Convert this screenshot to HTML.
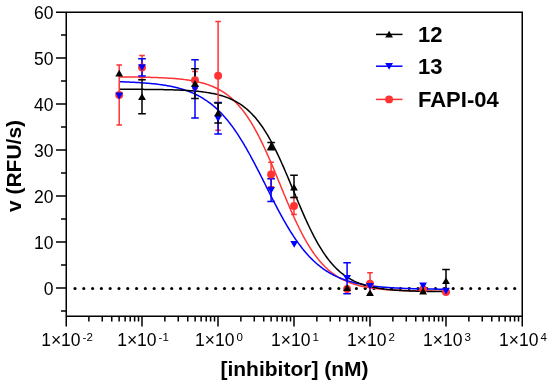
<!DOCTYPE html><html><head><meta charset="utf-8"><style>html,body{margin:0;padding:0;background:#fff;width:550px;height:386px;overflow:hidden}svg{display:block;will-change:transform}text{font-family:"Liberation Sans",sans-serif}</style></head><body>
<svg width="550" height="386" viewBox="0 0 550 386">
<g fill="#000"><circle cx="75.00" cy="288.5" r="1.55"/><circle cx="83.79" cy="288.5" r="1.55"/><circle cx="92.59" cy="288.5" r="1.55"/><circle cx="101.38" cy="288.5" r="1.55"/><circle cx="110.18" cy="288.5" r="1.55"/><circle cx="118.97" cy="288.5" r="1.55"/><circle cx="127.76" cy="288.5" r="1.55"/><circle cx="136.56" cy="288.5" r="1.55"/><circle cx="145.35" cy="288.5" r="1.55"/><circle cx="154.15" cy="288.5" r="1.55"/><circle cx="162.94" cy="288.5" r="1.55"/><circle cx="171.73" cy="288.5" r="1.55"/><circle cx="180.53" cy="288.5" r="1.55"/><circle cx="189.32" cy="288.5" r="1.55"/><circle cx="198.12" cy="288.5" r="1.55"/><circle cx="206.91" cy="288.5" r="1.55"/><circle cx="215.70" cy="288.5" r="1.55"/><circle cx="224.50" cy="288.5" r="1.55"/><circle cx="233.29" cy="288.5" r="1.55"/><circle cx="242.09" cy="288.5" r="1.55"/><circle cx="250.88" cy="288.5" r="1.55"/><circle cx="259.67" cy="288.5" r="1.55"/><circle cx="268.47" cy="288.5" r="1.55"/><circle cx="277.26" cy="288.5" r="1.55"/><circle cx="286.06" cy="288.5" r="1.55"/><circle cx="294.85" cy="288.5" r="1.55"/><circle cx="303.64" cy="288.5" r="1.55"/><circle cx="312.44" cy="288.5" r="1.55"/><circle cx="321.23" cy="288.5" r="1.55"/><circle cx="330.03" cy="288.5" r="1.55"/><circle cx="338.82" cy="288.5" r="1.55"/><circle cx="347.61" cy="288.5" r="1.55"/><circle cx="356.41" cy="288.5" r="1.55"/><circle cx="365.20" cy="288.5" r="1.55"/><circle cx="374.00" cy="288.5" r="1.55"/><circle cx="382.79" cy="288.5" r="1.55"/><circle cx="391.58" cy="288.5" r="1.55"/><circle cx="400.38" cy="288.5" r="1.55"/><circle cx="409.17" cy="288.5" r="1.55"/><circle cx="417.97" cy="288.5" r="1.55"/><circle cx="426.76" cy="288.5" r="1.55"/><circle cx="435.55" cy="288.5" r="1.55"/><circle cx="444.35" cy="288.5" r="1.55"/><circle cx="453.14" cy="288.5" r="1.55"/><circle cx="461.94" cy="288.5" r="1.55"/><circle cx="470.73" cy="288.5" r="1.55"/><circle cx="479.52" cy="288.5" r="1.55"/><circle cx="488.32" cy="288.5" r="1.55"/><circle cx="497.11" cy="288.5" r="1.55"/><circle cx="505.91" cy="288.5" r="1.55"/><circle cx="514.70" cy="288.5" r="1.55"/></g>
<path d="M119.30,76.92 L120.39,76.93 L121.49,76.94 L122.58,76.94 L123.67,76.95 L124.76,76.96 L125.86,76.97 L126.95,76.98 L128.04,76.99 L129.13,77.00 L130.23,77.01 L131.32,77.03 L132.41,77.04 L133.50,77.05 L134.60,77.07 L135.69,77.08 L136.78,77.10 L137.87,77.12 L138.97,77.13 L140.06,77.15 L141.15,77.17 L142.25,77.19 L143.34,77.21 L144.43,77.23 L145.52,77.26 L146.62,77.28 L147.71,77.31 L148.80,77.33 L149.89,77.36 L150.99,77.39 L152.08,77.42 L153.17,77.46 L154.26,77.49 L155.36,77.53 L156.45,77.57 L157.54,77.61 L158.64,77.65 L159.73,77.69 L160.82,77.74 L161.91,77.79 L163.01,77.84 L164.10,77.89 L165.19,77.95 L166.28,78.01 L167.38,78.07 L168.47,78.14 L169.56,78.21 L170.65,78.28 L171.75,78.35 L172.84,78.43 L173.93,78.52 L175.02,78.60 L176.12,78.70 L177.21,78.79 L178.30,78.90 L179.40,79.00 L180.49,79.11 L181.58,79.23 L182.67,79.36 L183.77,79.48 L184.86,79.62 L185.95,79.76 L187.04,79.91 L188.14,80.07 L189.23,80.23 L190.32,80.41 L191.41,80.59 L192.51,80.78 L193.60,80.98 L194.69,81.19 L195.78,81.41 L196.88,81.64 L197.97,81.88 L199.06,82.13 L200.16,82.40 L201.25,82.67 L202.34,82.96 L203.43,83.27 L204.53,83.59 L205.62,83.92 L206.71,84.27 L207.80,84.64 L208.90,85.02 L209.99,85.43 L211.08,85.85 L212.17,86.29 L213.27,86.75 L214.36,87.23 L215.45,87.73 L216.55,88.26 L217.64,88.81 L218.73,89.39 L219.82,89.99 L220.92,90.61 L222.01,91.27 L223.10,91.95 L224.19,92.67 L225.29,93.41 L226.38,94.19 L227.47,95.00 L228.56,95.84 L229.66,96.72 L230.75,97.63 L231.84,98.59 L232.93,99.58 L234.03,100.60 L235.12,101.67 L236.21,102.79 L237.31,103.94 L238.40,105.14 L239.49,106.38 L240.58,107.66 L241.68,109.00 L242.77,110.38 L243.86,111.80 L244.95,113.28 L246.05,114.81 L247.14,116.38 L248.23,118.01 L249.32,119.68 L250.42,121.41 L251.51,123.18 L252.60,125.01 L253.69,126.89 L254.79,128.81 L255.88,130.79 L256.97,132.82 L258.07,134.89 L259.16,137.01 L260.25,139.18 L261.34,141.40 L262.44,143.66 L263.53,145.96 L264.62,148.30 L265.71,150.68 L266.81,153.10 L267.90,155.55 L268.99,158.04 L270.08,160.55 L271.18,163.09 L272.27,165.66 L273.36,168.25 L274.46,170.86 L275.55,173.48 L276.64,176.12 L277.73,178.77 L278.83,181.42 L279.92,184.07 L281.01,186.73 L282.10,189.38 L283.20,192.03 L284.29,194.67 L285.38,197.29 L286.47,199.90 L287.57,202.49 L288.66,205.05 L289.75,207.60 L290.84,210.11 L291.94,212.59 L293.03,215.05 L294.12,217.46 L295.22,219.84 L296.31,222.18 L297.40,224.48 L298.49,226.74 L299.59,228.96 L300.68,231.12 L301.77,233.25 L302.86,235.32 L303.96,237.35 L305.05,239.32 L306.14,241.25 L307.23,243.12 L308.33,244.95 L309.42,246.73 L310.51,248.45 L311.61,250.12 L312.70,251.75 L313.79,253.32 L314.88,254.85 L315.98,256.32 L317.07,257.75 L318.16,259.13 L319.25,260.46 L320.35,261.75 L321.44,262.99 L322.53,264.18 L323.62,265.33 L324.72,266.45 L325.81,267.51 L326.90,268.54 L327.99,269.53 L329.09,270.48 L330.18,271.40 L331.27,272.27 L332.37,273.12 L333.46,273.92 L334.55,274.70 L335.64,275.44 L336.74,276.16 L337.83,276.84 L338.92,277.50 L340.01,278.12 L341.11,278.72 L342.20,279.30 L343.29,279.85 L344.38,280.37 L345.48,280.88 L346.57,281.36 L347.66,281.82 L348.75,282.26 L349.85,282.68 L350.94,283.08 L352.03,283.47 L353.13,283.83 L354.22,284.18 L355.31,284.52 L356.40,284.84 L357.50,285.14 L358.59,285.43 L359.68,285.71 L360.77,285.97 L361.87,286.23 L362.96,286.47 L364.05,286.70 L365.14,286.92 L366.24,287.12 L367.33,287.32 L368.42,287.51 L369.52,287.69 L370.61,287.87 L371.70,288.03 L372.79,288.19 L373.89,288.34 L374.98,288.48 L376.07,288.62 L377.16,288.75 L378.26,288.87 L379.35,288.99 L380.44,289.10 L381.53,289.20 L382.63,289.31 L383.72,289.40 L384.81,289.50 L385.90,289.58 L387.00,289.67 L388.09,289.75 L389.18,289.82 L390.28,289.89 L391.37,289.96 L392.46,290.03 L393.55,290.09 L394.65,290.15 L395.74,290.21 L396.83,290.26 L397.92,290.31 L399.02,290.36 L400.11,290.41 L401.20,290.45 L402.29,290.49 L403.39,290.53 L404.48,290.57 L405.57,290.61 L406.66,290.64 L407.76,290.68 L408.85,290.71 L409.94,290.74 L411.04,290.76 L412.13,290.79 L413.22,290.82 L414.31,290.84 L415.41,290.87 L416.50,290.89 L417.59,290.91 L418.68,290.93 L419.78,290.95 L420.87,290.97 L421.96,290.98 L423.05,291.00 L424.15,291.02 L425.24,291.03 L426.33,291.05 L427.43,291.06 L428.52,291.07 L429.61,291.08 L430.70,291.10 L431.80,291.11 L432.89,291.12 L433.98,291.13 L435.07,291.14 L436.17,291.15 L437.26,291.15 L438.35,291.16 L439.44,291.17 L440.54,291.18 L441.63,291.19 L442.72,291.19 L443.81,291.20 L444.91,291.20 L446.00,291.21" fill="none" stroke="#ff3333" stroke-width="1.5"/>
<path d="M119.30,81.73 L120.39,81.77 L121.49,81.80 L122.58,81.83 L123.67,81.87 L124.76,81.91 L125.86,81.95 L126.95,81.99 L128.04,82.04 L129.13,82.08 L130.23,82.13 L131.32,82.18 L132.41,82.23 L133.50,82.28 L134.60,82.34 L135.69,82.40 L136.78,82.46 L137.87,82.52 L138.97,82.59 L140.06,82.65 L141.15,82.73 L142.25,82.80 L143.34,82.88 L144.43,82.96 L145.52,83.04 L146.62,83.13 L147.71,83.22 L148.80,83.32 L149.89,83.42 L150.99,83.52 L152.08,83.63 L153.17,83.74 L154.26,83.86 L155.36,83.98 L156.45,84.11 L157.54,84.24 L158.64,84.38 L159.73,84.52 L160.82,84.67 L161.91,84.82 L163.01,84.98 L164.10,85.15 L165.19,85.33 L166.28,85.51 L167.38,85.70 L168.47,85.90 L169.56,86.10 L170.65,86.32 L171.75,86.54 L172.84,86.77 L173.93,87.01 L175.02,87.26 L176.12,87.52 L177.21,87.79 L178.30,88.08 L179.40,88.37 L180.49,88.67 L181.58,88.99 L182.67,89.32 L183.77,89.66 L184.86,90.02 L185.95,90.39 L187.04,90.77 L188.14,91.17 L189.23,91.58 L190.32,92.01 L191.41,92.46 L192.51,92.92 L193.60,93.40 L194.69,93.90 L195.78,94.42 L196.88,94.96 L197.97,95.51 L199.06,96.09 L200.16,96.69 L201.25,97.31 L202.34,97.95 L203.43,98.61 L204.53,99.30 L205.62,100.01 L206.71,100.75 L207.80,101.51 L208.90,102.30 L209.99,103.11 L211.08,103.96 L212.17,104.83 L213.27,105.73 L214.36,106.65 L215.45,107.61 L216.55,108.60 L217.64,109.62 L218.73,110.67 L219.82,111.75 L220.92,112.87 L222.01,114.01 L223.10,115.19 L224.19,116.41 L225.29,117.66 L226.38,118.94 L227.47,120.26 L228.56,121.61 L229.66,123.00 L230.75,124.42 L231.84,125.87 L232.93,127.37 L234.03,128.89 L235.12,130.46 L236.21,132.05 L237.31,133.69 L238.40,135.35 L239.49,137.05 L240.58,138.78 L241.68,140.55 L242.77,142.35 L243.86,144.17 L244.95,146.03 L246.05,147.92 L247.14,149.84 L248.23,151.78 L249.32,153.75 L250.42,155.75 L251.51,157.77 L252.60,159.81 L253.69,161.87 L254.79,163.95 L255.88,166.05 L256.97,168.17 L258.07,170.30 L259.16,172.44 L260.25,174.59 L261.34,176.76 L262.44,178.93 L263.53,181.10 L264.62,183.28 L265.71,185.47 L266.81,187.65 L267.90,189.83 L268.99,192.00 L270.08,194.17 L271.18,196.33 L272.27,198.48 L273.36,200.62 L274.46,202.75 L275.55,204.86 L276.64,206.95 L277.73,209.03 L278.83,211.09 L279.92,213.12 L281.01,215.14 L282.10,217.13 L283.20,219.09 L284.29,221.03 L285.38,222.94 L286.47,224.82 L287.57,226.67 L288.66,228.49 L289.75,230.28 L290.84,232.04 L291.94,233.76 L293.03,235.45 L294.12,237.11 L295.22,238.73 L296.31,240.32 L297.40,241.87 L298.49,243.39 L299.59,244.87 L300.68,246.32 L301.77,247.74 L302.86,249.11 L303.96,250.46 L305.05,251.77 L306.14,253.04 L307.23,254.28 L308.33,255.49 L309.42,256.66 L310.51,257.80 L311.61,258.90 L312.70,259.98 L313.79,261.02 L314.88,262.03 L315.98,263.01 L317.07,263.96 L318.16,264.88 L319.25,265.77 L320.35,266.64 L321.44,267.47 L322.53,268.28 L323.62,269.06 L324.72,269.82 L325.81,270.55 L326.90,271.25 L327.99,271.93 L329.09,272.59 L330.18,273.23 L331.27,273.84 L332.37,274.43 L333.46,275.01 L334.55,275.56 L335.64,276.09 L336.74,276.60 L337.83,277.10 L338.92,277.57 L340.01,278.03 L341.11,278.47 L342.20,278.90 L343.29,279.31 L344.38,279.70 L345.48,280.08 L346.57,280.45 L347.66,280.80 L348.75,281.14 L349.85,281.47 L350.94,281.78 L352.03,282.08 L353.13,282.37 L354.22,282.65 L355.31,282.92 L356.40,283.18 L357.50,283.42 L358.59,283.66 L359.68,283.89 L360.77,284.11 L361.87,284.32 L362.96,284.53 L364.05,284.72 L365.14,284.91 L366.24,285.09 L367.33,285.26 L368.42,285.43 L369.52,285.59 L370.61,285.74 L371.70,285.89 L372.79,286.03 L373.89,286.17 L374.98,286.30 L376.07,286.43 L377.16,286.55 L378.26,286.66 L379.35,286.77 L380.44,286.88 L381.53,286.98 L382.63,287.08 L383.72,287.18 L384.81,287.27 L385.90,287.35 L387.00,287.44 L388.09,287.52 L389.18,287.59 L390.28,287.67 L391.37,287.74 L392.46,287.80 L393.55,287.87 L394.65,287.93 L395.74,287.99 L396.83,288.05 L397.92,288.11 L399.02,288.16 L400.11,288.21 L401.20,288.26 L402.29,288.30 L403.39,288.35 L404.48,288.39 L405.57,288.43 L406.66,288.47 L407.76,288.51 L408.85,288.55 L409.94,288.58 L411.04,288.62 L412.13,288.65 L413.22,288.68 L414.31,288.71 L415.41,288.74 L416.50,288.77 L417.59,288.79 L418.68,288.82 L419.78,288.84 L420.87,288.86 L421.96,288.89 L423.05,288.91 L424.15,288.93 L425.24,288.95 L426.33,288.97 L427.43,288.98 L428.52,289.00 L429.61,289.02 L430.70,289.03 L431.80,289.05 L432.89,289.06 L433.98,289.08 L435.07,289.09 L436.17,289.10 L437.26,289.12 L438.35,289.13 L439.44,289.14 L440.54,289.15 L441.63,289.16 L442.72,289.17 L443.81,289.18 L444.91,289.19 L446.00,289.20" fill="none" stroke="#0000ff" stroke-width="1.5"/>
<path d="M119.30,89.26 L120.39,89.27 L121.49,89.27 L122.58,89.27 L123.67,89.27 L124.76,89.28 L125.86,89.28 L126.95,89.29 L128.04,89.29 L129.13,89.29 L130.23,89.30 L131.32,89.30 L132.41,89.31 L133.50,89.31 L134.60,89.32 L135.69,89.32 L136.78,89.33 L137.87,89.34 L138.97,89.34 L140.06,89.35 L141.15,89.36 L142.25,89.36 L143.34,89.37 L144.43,89.38 L145.52,89.39 L146.62,89.40 L147.71,89.41 L148.80,89.42 L149.89,89.43 L150.99,89.44 L152.08,89.46 L153.17,89.47 L154.26,89.48 L155.36,89.50 L156.45,89.51 L157.54,89.53 L158.64,89.55 L159.73,89.56 L160.82,89.58 L161.91,89.60 L163.01,89.62 L164.10,89.64 L165.19,89.67 L166.28,89.69 L167.38,89.72 L168.47,89.74 L169.56,89.77 L170.65,89.80 L171.75,89.83 L172.84,89.87 L173.93,89.90 L175.02,89.94 L176.12,89.98 L177.21,90.02 L178.30,90.06 L179.40,90.11 L180.49,90.15 L181.58,90.20 L182.67,90.26 L183.77,90.31 L184.86,90.37 L185.95,90.43 L187.04,90.49 L188.14,90.56 L189.23,90.63 L190.32,90.71 L191.41,90.79 L192.51,90.87 L193.60,90.96 L194.69,91.05 L195.78,91.15 L196.88,91.25 L197.97,91.36 L199.06,91.47 L200.16,91.59 L201.25,91.72 L202.34,91.85 L203.43,91.99 L204.53,92.13 L205.62,92.29 L206.71,92.45 L207.80,92.62 L208.90,92.80 L209.99,92.98 L211.08,93.18 L212.17,93.39 L213.27,93.61 L214.36,93.84 L215.45,94.08 L216.55,94.33 L217.64,94.59 L218.73,94.87 L219.82,95.17 L220.92,95.47 L222.01,95.80 L223.10,96.14 L224.19,96.49 L225.29,96.87 L226.38,97.26 L227.47,97.67 L228.56,98.10 L229.66,98.55 L230.75,99.03 L231.84,99.52 L232.93,100.04 L234.03,100.59 L235.12,101.16 L236.21,101.76 L237.31,102.38 L238.40,103.03 L239.49,103.72 L240.58,104.43 L241.68,105.18 L242.77,105.96 L243.86,106.78 L244.95,107.63 L246.05,108.52 L247.14,109.44 L248.23,110.41 L249.32,111.42 L250.42,112.46 L251.51,113.55 L252.60,114.69 L253.69,115.87 L254.79,117.09 L255.88,118.36 L256.97,119.68 L258.07,121.05 L259.16,122.47 L260.25,123.94 L261.34,125.46 L262.44,127.03 L263.53,128.66 L264.62,130.33 L265.71,132.06 L266.81,133.84 L267.90,135.67 L268.99,137.56 L270.08,139.50 L271.18,141.49 L272.27,143.52 L273.36,145.61 L274.46,147.75 L275.55,149.94 L276.64,152.17 L277.73,154.44 L278.83,156.76 L279.92,159.12 L281.01,161.51 L282.10,163.94 L283.20,166.41 L284.29,168.91 L285.38,171.43 L286.47,173.98 L287.57,176.55 L288.66,179.14 L289.75,181.74 L290.84,184.35 L291.94,186.98 L293.03,189.60 L294.12,192.23 L295.22,194.86 L296.31,197.48 L297.40,200.09 L298.49,202.69 L299.59,205.27 L300.68,207.84 L301.77,210.38 L302.86,212.89 L303.96,215.38 L305.05,217.83 L306.14,220.25 L307.23,222.63 L308.33,224.98 L309.42,227.28 L310.51,229.54 L311.61,231.76 L312.70,233.92 L313.79,236.05 L314.88,238.12 L315.98,240.14 L317.07,242.11 L318.16,244.03 L319.25,245.90 L320.35,247.71 L321.44,249.48 L322.53,251.19 L323.62,252.84 L324.72,254.45 L325.81,256.00 L326.90,257.51 L327.99,258.96 L329.09,260.36 L330.18,261.71 L331.27,263.01 L332.37,264.27 L333.46,265.48 L334.55,266.64 L335.64,267.76 L336.74,268.84 L337.83,269.87 L338.92,270.86 L340.01,271.82 L341.11,272.73 L342.20,273.60 L343.29,274.44 L344.38,275.25 L345.48,276.02 L346.57,276.75 L347.66,277.46 L348.75,278.13 L349.85,278.77 L350.94,279.39 L352.03,279.98 L353.13,280.54 L354.22,281.08 L355.31,281.59 L356.40,282.08 L357.50,282.54 L358.59,282.99 L359.68,283.41 L360.77,283.82 L361.87,284.20 L362.96,284.57 L364.05,284.92 L365.14,285.25 L366.24,285.57 L367.33,285.87 L368.42,286.16 L369.52,286.43 L370.61,286.70 L371.70,286.94 L372.79,287.18 L373.89,287.41 L374.98,287.62 L376.07,287.82 L377.16,288.02 L378.26,288.20 L379.35,288.38 L380.44,288.54 L381.53,288.70 L382.63,288.85 L383.72,289.00 L384.81,289.13 L385.90,289.26 L387.00,289.39 L388.09,289.50 L389.18,289.61 L390.28,289.72 L391.37,289.82 L392.46,289.92 L393.55,290.01 L394.65,290.09 L395.74,290.18 L396.83,290.25 L397.92,290.33 L399.02,290.40 L400.11,290.46 L401.20,290.53 L402.29,290.59 L403.39,290.65 L404.48,290.70 L405.57,290.75 L406.66,290.80 L407.76,290.85 L408.85,290.89 L409.94,290.93 L411.04,290.97 L412.13,291.01 L413.22,291.05 L414.31,291.08 L415.41,291.11 L416.50,291.15 L417.59,291.17 L418.68,291.20 L419.78,291.23 L420.87,291.25 L421.96,291.28 L423.05,291.30 L424.15,291.32 L425.24,291.34 L426.33,291.36 L427.43,291.38 L428.52,291.40 L429.61,291.41 L430.70,291.43 L431.80,291.44 L432.89,291.46 L433.98,291.47 L435.07,291.49 L436.17,291.50 L437.26,291.51 L438.35,291.52 L439.44,291.53 L440.54,291.54 L441.63,291.55 L442.72,291.56 L443.81,291.57 L444.91,291.58 L446.00,291.58" fill="none" stroke="#000000" stroke-width="1.5"/>
<path d="M119.20,65.00 V125.00 M116.40,65.00 H122.00 M116.40,125.00 H122.00" stroke="#ff3333" stroke-width="1.5" fill="none"/>
<path d="M142.00,55.40 V79.60 M139.20,55.40 H144.80 M139.20,79.60 H144.80" stroke="#ff3333" stroke-width="1.5" fill="none"/>
<path d="M195.00,71.60 V88.80 M192.20,71.60 H197.80 M192.20,88.80 H197.80" stroke="#ff3333" stroke-width="1.5" fill="none"/>
<path d="M218.10,21.40 V130.20 M215.30,21.40 H220.90 M215.30,130.20 H220.90" stroke="#ff3333" stroke-width="1.5" fill="none"/>
<path d="M271.10,162.20 V186.80 M268.30,162.20 H273.90 M268.30,186.80 H273.90" stroke="#ff3333" stroke-width="1.5" fill="none"/>
<path d="M294.00,197.50 V214.50 M291.20,197.50 H296.80 M291.20,214.50 H296.80" stroke="#ff3333" stroke-width="1.5" fill="none"/>

<path d="M370.00,272.80 V294.80 M367.20,272.80 H372.80 M367.20,294.80 H372.80" stroke="#ff3333" stroke-width="1.5" fill="none"/>



<path d="M142.00,58.80 V75.90 M138.20,58.80 H145.80 M138.20,75.90 H145.80" stroke="#0000ff" stroke-width="1.5" fill="none"/>
<path d="M195.00,59.70 V118.00 M191.20,59.70 H198.80 M191.20,118.00 H198.80" stroke="#0000ff" stroke-width="1.5" fill="none"/>
<path d="M218.10,102.60 V134.10 M214.30,102.60 H221.90 M214.30,134.10 H221.90" stroke="#0000ff" stroke-width="1.5" fill="none"/>
<path d="M271.10,178.80 V201.40 M267.30,178.80 H274.90 M267.30,201.40 H274.90" stroke="#0000ff" stroke-width="1.5" fill="none"/>

<path d="M347.10,262.65 V293.75 M343.30,262.65 H350.90 M343.30,293.75 H350.90" stroke="#0000ff" stroke-width="1.5" fill="none"/>




<path d="M142.00,79.85 V113.85 M138.20,79.85 H145.80 M138.20,113.85 H145.80" stroke="#000000" stroke-width="1.5" fill="none"/>
<path d="M195.00,68.75 V98.45 M191.20,68.75 H198.80 M191.20,98.45 H198.80" stroke="#000000" stroke-width="1.5" fill="none"/>
<path d="M218.10,102.90 V123.00 M214.30,102.90 H221.90 M214.30,123.00 H221.90" stroke="#000000" stroke-width="1.5" fill="none"/>
<path d="M271.10,142.60 V149.80 M267.30,142.60 H274.90 M267.30,149.80 H274.90" stroke="#000000" stroke-width="1.5" fill="none"/>
<path d="M294.00,175.20 V197.50 M290.20,175.20 H297.80 M290.20,197.50 H297.80" stroke="#000000" stroke-width="1.5" fill="none"/>



<path d="M446.00,269.40 V292.20 M442.20,269.40 H449.80 M442.20,292.20 H449.80" stroke="#000000" stroke-width="1.5" fill="none"/>
<circle cx="119.20" cy="95.00" r="3.95" fill="#ff3333"/>
<circle cx="142.00" cy="67.50" r="3.95" fill="#ff3333"/>
<circle cx="195.00" cy="80.20" r="3.95" fill="#ff3333"/>
<circle cx="218.10" cy="75.80" r="3.95" fill="#ff3333"/>
<circle cx="271.10" cy="174.50" r="3.95" fill="#ff3333"/>
<circle cx="294.00" cy="206.00" r="3.95" fill="#ff3333"/>
<circle cx="347.10" cy="289.00" r="3.95" fill="#ff3333"/>
<circle cx="370.00" cy="283.80" r="3.95" fill="#ff3333"/>
<circle cx="423.10" cy="289.40" r="3.95" fill="#ff3333"/>
<circle cx="446.00" cy="292.00" r="3.95" fill="#ff3333"/>
<path d="M119.20,99.40 L123.10,92.60 L115.30,92.60 Z" fill="#0000ff"/>
<path d="M142.00,70.95 L145.90,64.15 L138.10,64.15 Z" fill="#0000ff"/>
<path d="M195.00,92.45 L198.90,85.65 L191.10,85.65 Z" fill="#0000ff"/>
<path d="M218.10,121.95 L222.00,115.15 L214.20,115.15 Z" fill="#0000ff"/>
<path d="M271.10,193.70 L275.00,186.90 L267.20,186.90 Z" fill="#0000ff"/>
<path d="M294.20,247.80 L298.10,241.00 L290.30,241.00 Z" fill="#0000ff"/>
<path d="M347.10,281.80 L351.00,275.00 L343.20,275.00 Z" fill="#0000ff"/>
<path d="M370.00,289.70 L373.90,282.90 L366.10,282.90 Z" fill="#0000ff"/>
<path d="M423.10,289.35 L427.00,282.55 L419.20,282.55 Z" fill="#0000ff"/>
<path d="M446.00,294.60 L449.90,287.80 L442.10,287.80 Z" fill="#0000ff"/>
<path d="M119.20,69.65 L123.10,76.45 L115.30,76.45 Z" fill="#000000"/>
<path d="M142.00,93.25 L145.90,100.05 L138.10,100.05 Z" fill="#000000"/>
<path d="M195.00,80.00 L198.90,86.80 L191.10,86.80 Z" fill="#000000"/>
<path d="M218.10,109.35 L222.00,116.15 L214.20,116.15 Z" fill="#000000"/>
<path d="M271.10,142.60 L275.00,149.40 L267.20,149.40 Z" fill="#000000"/>
<path d="M294.00,183.80 L297.90,190.60 L290.10,190.60 Z" fill="#000000"/>
<path d="M347.10,284.20 L351.00,291.00 L343.20,291.00 Z" fill="#000000"/>
<path d="M370.00,289.15 L373.90,295.95 L366.10,295.95 Z" fill="#000000"/>
<path d="M423.10,287.60 L427.00,294.40 L419.20,294.40 Z" fill="#000000"/>
<path d="M446.00,277.20 L449.90,284.00 L442.10,284.00 Z" fill="#000000"/>
<path d="M66.25,11.5 V326.5 M56,12.25 H522.75 M522.25,11.5 V326.5 M66,316.25 H522.75 M56,288.00 H66 M56,242.00 H66 M56,196.00 H66 M56,150.00 H66 M56,104.00 H66 M56,58.00 H66 M61,311.00 H66 M61,265.00 H66 M61,219.00 H66 M61,173.00 H66 M61,127.00 H66 M61,81.00 H66 M61,35.00 H66 M88.88,316 V321.5 M102.26,316 V321.5 M111.76,316 V321.5 M119.12,316 V321.5 M125.14,316 V321.5 M130.23,316 V321.5 M134.63,316 V321.5 M138.52,316 V321.5 M142.00,316 V326.5 M164.88,316 V321.5 M178.26,316 V321.5 M187.76,316 V321.5 M195.12,316 V321.5 M201.14,316 V321.5 M206.23,316 V321.5 M210.63,316 V321.5 M214.52,316 V321.5 M218.00,316 V326.5 M240.88,316 V321.5 M254.26,316 V321.5 M263.76,316 V321.5 M271.12,316 V321.5 M277.14,316 V321.5 M282.23,316 V321.5 M286.63,316 V321.5 M290.52,316 V321.5 M294.00,316 V326.5 M316.88,316 V321.5 M330.26,316 V321.5 M339.76,316 V321.5 M347.12,316 V321.5 M353.14,316 V321.5 M358.23,316 V321.5 M362.63,316 V321.5 M366.52,316 V321.5 M370.00,316 V326.5 M392.88,316 V321.5 M406.26,316 V321.5 M415.76,316 V321.5 M423.12,316 V321.5 M429.14,316 V321.5 M434.23,316 V321.5 M438.63,316 V321.5 M442.52,316 V321.5 M446.00,316 V326.5 M468.88,316 V321.5 M482.26,316 V321.5 M491.76,316 V321.5 M499.12,316 V321.5 M505.14,316 V321.5 M510.23,316 V321.5 M514.63,316 V321.5 M518.52,316 V321.5" stroke="#000" stroke-width="1.5" fill="none"/>
<text x="53.5" y="295.00" font-size="17.5" text-anchor="end">0</text>
<text x="53.5" y="249.00" font-size="17.5" text-anchor="end">10</text>
<text x="53.5" y="203.00" font-size="17.5" text-anchor="end">20</text>
<text x="53.5" y="157.00" font-size="17.5" text-anchor="end">30</text>
<text x="53.5" y="111.00" font-size="17.5" text-anchor="end">40</text>
<text x="53.5" y="65.00" font-size="17.5" text-anchor="end">50</text>
<text x="53.5" y="19.00" font-size="17.5" text-anchor="end">60</text>
<text x="67.00" y="346" font-size="17.5" text-anchor="middle">1×10<tspan font-size="11.5" dx="2" dy="-5">-2</tspan></text>
<text x="143.00" y="346" font-size="17.5" text-anchor="middle">1×10<tspan font-size="11.5" dx="2" dy="-5">-1</tspan></text>
<text x="219.00" y="346" font-size="17.5" text-anchor="middle">1×10<tspan font-size="11.5" dx="2" dy="-5">0</tspan></text>
<text x="295.00" y="346" font-size="17.5" text-anchor="middle">1×10<tspan font-size="11.5" dx="2" dy="-5">1</tspan></text>
<text x="371.00" y="346" font-size="17.5" text-anchor="middle">1×10<tspan font-size="11.5" dx="2" dy="-5">2</tspan></text>
<text x="447.00" y="346" font-size="17.5" text-anchor="middle">1×10<tspan font-size="11.5" dx="2" dy="-5">3</tspan></text>
<text x="523.00" y="346" font-size="17.5" text-anchor="middle">1×10<tspan font-size="11.5" dx="2" dy="-5">4</tspan></text>
<text x="294.5" y="375.5" font-size="21" font-weight="bold" text-anchor="middle">[inhibitor] (nM)</text>
<text transform="translate(20.5,166) rotate(-90)" x="0" y="0" font-size="21" font-weight="bold" text-anchor="middle">v (RFU/s)</text>
<path d="M376,34.4 H402.5" stroke="#000000" stroke-width="1.5"/>
<path d="M389.10,30.80 L393.00,37.60 L385.20,37.60 Z" fill="#000000"/>
<text x="418" y="42.40" font-size="22" font-weight="bold">12</text>
<path d="M376,66.2 H402.5" stroke="#0000ff" stroke-width="1.5"/>
<path d="M389.10,69.80 L393.00,63.00 L385.20,63.00 Z" fill="#0000ff"/>
<text x="418" y="74.20" font-size="22" font-weight="bold">13</text>
<path d="M376,99.4 H402.5" stroke="#ff3333" stroke-width="1.5"/>
<circle cx="389.10" cy="99.40" r="3.95" fill="#ff3333"/>
<text x="418" y="107.40" font-size="22" font-weight="bold">FAPI-04</text>
</svg></body></html>
